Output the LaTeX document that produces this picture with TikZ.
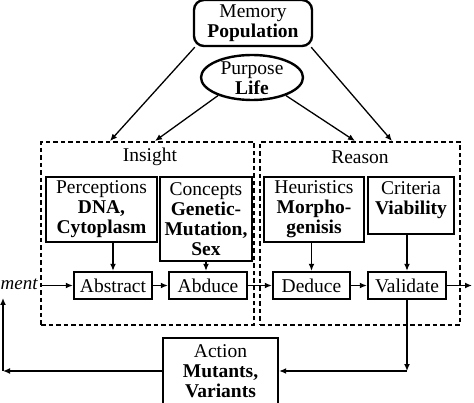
\documentclass[tikz,border=0pt]{standalone}
\usepackage{fontspec}
\setmainfont{Liberation Serif}
\usetikzlibrary{arrows.meta,shapes.geometric}
\begin{document}
\begin{tikzpicture}[x=1pt,y=-1pt,
  every node/.style={font=\fontsize{19.5}{20}\selectfont},
  box/.style={draw,line width=2.4pt,inner sep=0pt,align=center},
  txt/.style={inner sep=0pt,align=center},
  arr/.style={-{Latex[length=7pt,width=6pt]},line width=1.3pt},
  grp/.style={draw,line width=1.2pt,dash pattern=on 4.5pt off 3pt,inner sep=0pt},
  ]
\useasboundingbox (0,0) rectangle (474,403);
% groups
\node[grp,minimum width=213,minimum height=183] (insight) at (147.5,233.5) {};
\node[grp,minimum width=200,minimum height=183] (reason) at (360,233.5) {};
\node[txt] (insightlbl) at (150,157) {Insight};
\node[txt] (reasonlbl) at (360,157) {Reason};
% top
\node[box,rounded corners=10pt,minimum width=118,minimum height=46] (mem) at (253,23) {Memory\\\textbf{Population}};
\node[draw,ellipse,line width=2.4pt,minimum width=102,minimum height=45,inner sep=0pt] (purpose) at (252,77.5) {};
\node[txt] (purposetxt) at (252,78) {Purpose\\\textbf{Life}};
% upper boxes
\node[box,minimum width=111,minimum height=65] (perc) at (101.5,209.5) {Perceptions\\\textbf{DNA,}\\\textbf{Cytoplasm}};
\node[box,minimum width=92,minimum height=84] (conc) at (206,219) {Concepts\\\textbf{Genetic-}\\\textbf{Mutation,}\\\textbf{Sex}};
\node[box,minimum width=100,minimum height=65] (heur) at (314,209.5) {Heuristics\\\textbf{Morpho-}\\\textbf{genisis}};
\node[box,minimum width=86,minimum height=57] (crit) at (411,205.5) {};
\node[txt] (crittxt) at (411,200) {Criteria\\\textbf{Viability}};
% row
\node[box,minimum width=78,minimum height=27] (abstract) at (113,285.5) {Abstract};
\node[box,minimum width=78,minimum height=27] (abduce) at (208,285.5) {Abduce};
\node[box,minimum width=77,minimum height=27] (deduce) at (311.5,285.5) {Deduce};
\node[box,minimum width=78,minimum height=27] (validate) at (407,285.5) {Validate};
% action
\node[box,minimum width=115,minimum height=66] (action) at (220.5,371) {Action\\\textbf{Mutants,}\\\textbf{Variants}};
% environment
\node[txt,anchor=base west,font=\fontsize{19}{20}\selectfont\itshape] (env) at (0.5,290) {ment};
% coordinates
\coordinate (i1) at (110,141);
\coordinate (i2) at (155,141);
\coordinate (r1) at (355,141);
\coordinate (r2) at (392,141);
\coordinate (envin) at (42,285.5);
\coordinate (out) at (472,285.5);
\coordinate (c1) at (407,371);
\coordinate (c2) at (3,371);
\coordinate (c3) at (3,298);
% connectors
\draw[arr] ([xshift=2pt]mem.south west) -- (i1);
\draw[arr] ([xshift=-2pt]mem.south east) -- (r2);
\draw[arr] (purpose.-152) -- (i2);
\draw[arr] (purpose.-28) -- (r1);
\draw[arr] (perc.south -| abstract) -- (abstract.north);
\draw[arr] (conc.south) -- (abduce.north -| conc.south);
\draw[arr] (heur.south -| deduce) -- (deduce.north);
\draw[arr] (crit.south -| validate) -- (validate.north);
\draw[arr] (envin) -- (abstract.west);
\draw[arr] (abstract.east) -- (abduce.west);
\draw[arr] (abduce.east) -- (deduce.west);
\draw[arr] (deduce.east) -- (validate.west);
\draw[arr] (validate.east) -- (out);
\draw[arr] (validate.south) -- (c1);
\draw[arr] (c1) -- (action.east);
\draw[arr] (action.west) -- (c2);
\draw[arr] (c2) -- (c3);
\end{tikzpicture}
\end{document}
